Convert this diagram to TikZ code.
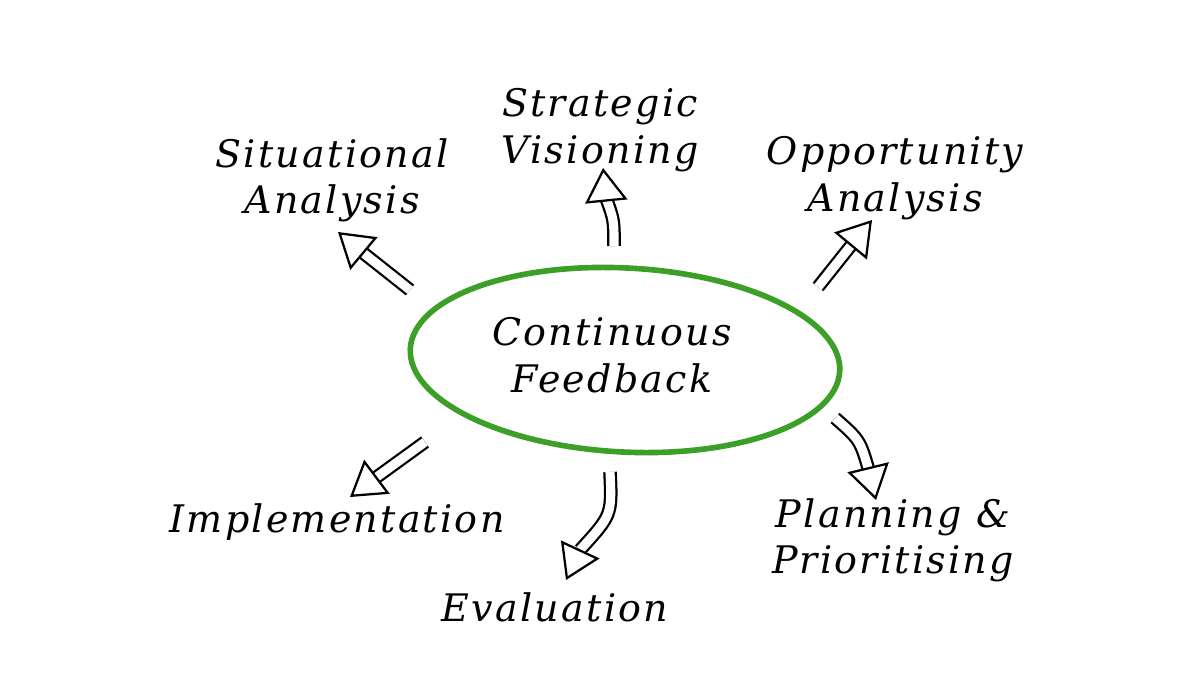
\documentclass[tikz,border=0pt]{standalone}
\usepackage{fontspec}
\setmainfont{DejaVu Serif}[LetterSpace=6]
\usetikzlibrary{arrows.meta}
\definecolor{grn}{RGB}{60,160,40}
\tikzset{
 lbl/.style={font=\fontsize{27}{33}\selectfont\itshape, align=center, inner sep=0},
 shaft/.style={draw=black, line width=1.6pt, double=white, double distance=6.5pt},
 head/.style={draw=black, line width=1.6pt, -{Triangle[open,length=24,width=30,line width=1.6pt,fill=white]}}
}
\begin{document}
\begin{tikzpicture}[x=0.025cm,y=-0.025cm]
\useasboundingbox (0,0) rectangle (1200,675);
\draw[grn, line width=4pt, rotate around={-3:(625,360)}] (625,360) ellipse [x radius=215, y radius=92];
\node[lbl] (cf) at (612,355) {Continuous\\Feedback};
\node[lbl] (sa) at (332,180) {Situational\\Analysis};
\node[lbl] (sv) at (600,130) {Strategic\\Visioning};
\node[lbl] (oa) at (895,178) {Opportunity\\Analysis};
\node[lbl] (im) at (337,522) {Implementation};
\node[lbl] (ev) at (555,607) {Evaluation};
\node[lbl] (pp) at (893,540) {Planning \&\\Prioritising};
\coordinate (a1s) at (410,290); \coordinate (a1b) at (362,252); \coordinate (a1t) at (338,232);
\coordinate (a2s) at (614,246); \coordinate (a2b) at (606,198); \coordinate (a2t) at (603,168);
\coordinate (a3s) at (818,287); \coordinate (a3b) at (853,243); \coordinate (a3t) at (872,220);
\coordinate (a4s) at (425,442); \coordinate (a4b) at (374,479); \coordinate (a4t) at (350,497);
\coordinate (a5s) at (610,472); \coordinate (a5b) at (580,550); \coordinate (a5t) at (566,580);
\coordinate (a6s) at (835,418); \coordinate (a6b) at (869,471); \coordinate (a6t) at (876,500);
\draw[shaft] (a1s) -- (a1b);
\draw[shaft] (a2s) .. controls (614,220) .. (a2b);
\draw[shaft] (a3s) -- (a3b);
\draw[shaft] (a4s) -- (a4b);
\draw[shaft] (a5s) .. controls (612,515) .. (a5b);
\draw[shaft] (a6s) .. controls (860,440) .. (a6b);
\foreach \i in {1,...,6}{\draw[head] (a\i b) -- (a\i t);}
\end{tikzpicture}
\end{document}
